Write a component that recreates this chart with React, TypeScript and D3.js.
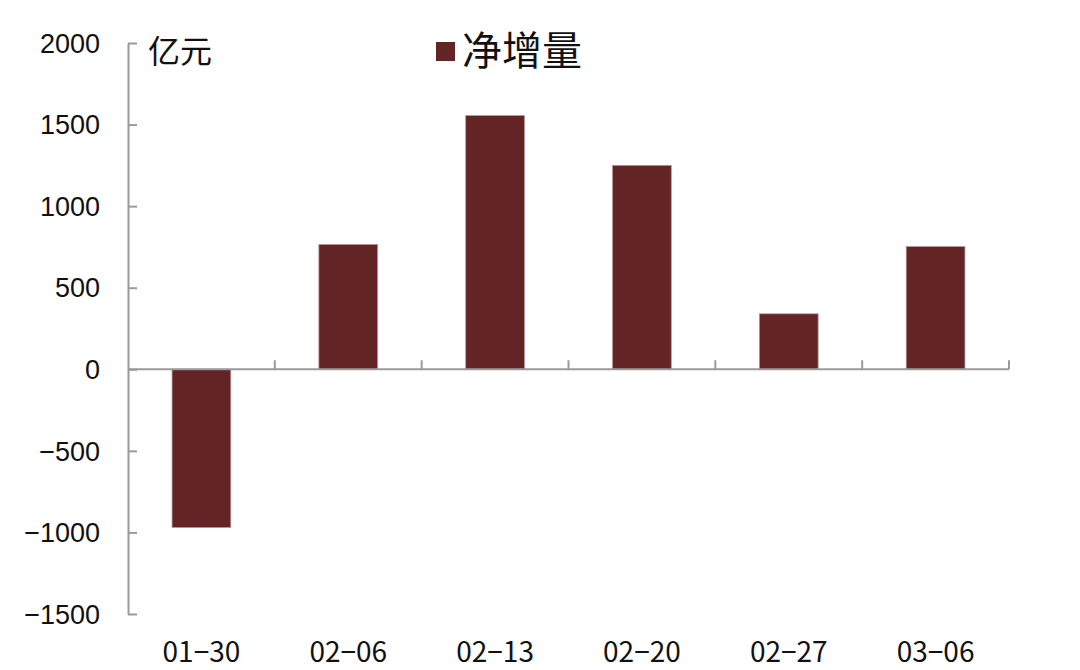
import { useEffect, useRef } from "react";
import * as d3 from "d3";

const categories = ["01-30", "02-06", "02-13", "02-20", "02-27", "03-06"];
const netIncrease = [-970, 765, 1555, 1250, 340, 752];
const yTicks = [-1500, -1000, -500, 0, 500, 1000, 1500, 2000];
const seriesName = "净增量";
const unitLabel = "亿元";

const width = 1080;
const height = 670;
const barColor = "#632426";
const axisColor = "#9a9a9a";

const App = () => {
  const svgRef = useRef<SVGSVGElement | null>(null);

  useEffect(() => {
    if (!svgRef.current) return;
    const svg = d3.select(svgRef.current);
    svg.selectAll("*").remove();

    const left = 128;
    const right = 1009;

    const x = d3.scaleBand<string>().domain(categories).range([left, right]).paddingInner(0).paddingOuter(0);
    const y = d3.scaleLinear().domain([-1500, 2000]).range([614, 43]);

    // y axis with inward ticks
    const yAxis = svg
      .append("g")
      .attr("transform", `translate(${left},0)`)
      .call(
        d3
          .axisRight(y)
          .tickValues(yTicks)
          .tickSize(9)
          .tickSizeOuter(0)
          .tickFormat(() => "")
      );
    yAxis.selectAll("path, line").attr("stroke", axisColor).attr("stroke-width", 2);

    svg
      .append("g")
      .selectAll("text")
      .data(yTicks)
      .join("text")
      .attr("x", 100)
      .attr("y", (d) => y(d))
      .attr("dy", "0.36em")
      .attr("text-anchor", "end")
      .attr("font-family", "'Liberation Sans', Arial, sans-serif")
      .attr("font-size", 27)
      .attr("fill", "#111")
      .text((d) => (d < 0 ? "\u2212" + Math.abs(d) : String(d)));

    // bars
    const barW = x.bandwidth() * 0.4;
    svg
      .append("g")
      .selectAll("rect")
      .data(netIncrease)
      .join("rect")
      .attr("x", (_, i) => (x(categories[i]) as number) + (x.bandwidth() - barW) / 2)
      .attr("y", (d) => Math.min(y(d), y(0)))
      .attr("width", barW)
      .attr("height", (d) => Math.abs(y(d) - y(0)))
      .attr("fill", barColor)
      .attr("stroke", "#b89494")
      .attr("stroke-width", 0.8);

    // x axis at zero, ticks pointing up at band boundaries
    const zeroY = y(0);
    const boundaries = categories.map((c) => (x(c) as number) + x.bandwidth());
    const xAxis = svg.append("g");
    xAxis
      .append("line")
      .attr("x1", left)
      .attr("x2", right)
      .attr("y1", zeroY)
      .attr("y2", zeroY)
      .attr("stroke", axisColor)
      .attr("stroke-width", 2);
    xAxis
      .selectAll("line.tick")
      .data(boundaries)
      .join("line")
      .attr("class", "tick")
      .attr("x1", (d) => d)
      .attr("x2", (d) => d)
      .attr("y1", zeroY)
      .attr("y2", zeroY - 9)
      .attr("stroke", axisColor)
      .attr("stroke-width", 2);

    svg
      .append("g")
      .selectAll("text")
      .data(categories)
      .join("text")
      .attr("x", (d) => (x(d) as number) + x.bandwidth() / 2)
      .attr("y", 662)
      .attr("text-anchor", "middle")
      .attr("font-family", "'Noto Sans CJK SC', sans-serif")
      .attr("font-size", 28)
      .attr("fill", "#111")
      .text((d) => d.replace("-", "\u2212"));

    // unit label
    svg
      .append("text")
      .attr("x", 148)
      .attr("y", 63)
      .attr("font-family", "'Noto Sans CJK SC', sans-serif")
      .attr("font-size", 32)
      .attr("fill", "#111")
      .text(unitLabel);

    // legend
    svg
      .append("rect")
      .attr("x", 436)
      .attr("y", 42)
      .attr("width", 19)
      .attr("height", 19)
      .attr("fill", barColor);
    svg
      .append("text")
      .attr("x", 462)
      .attr("y", 65)
      .attr("font-family", "'Noto Sans CJK SC', sans-serif")
      .attr("font-size", 40)
      .attr("fill", "#111")
      .text(seriesName);
  }, []);

  return (
    <div style={{ position: "absolute", left: 0, top: 0 }}>
      <svg ref={svgRef} width={width} height={height} style={{ display: "block", background: "#fff" }} />
    </div>
  );
};

export default App;
